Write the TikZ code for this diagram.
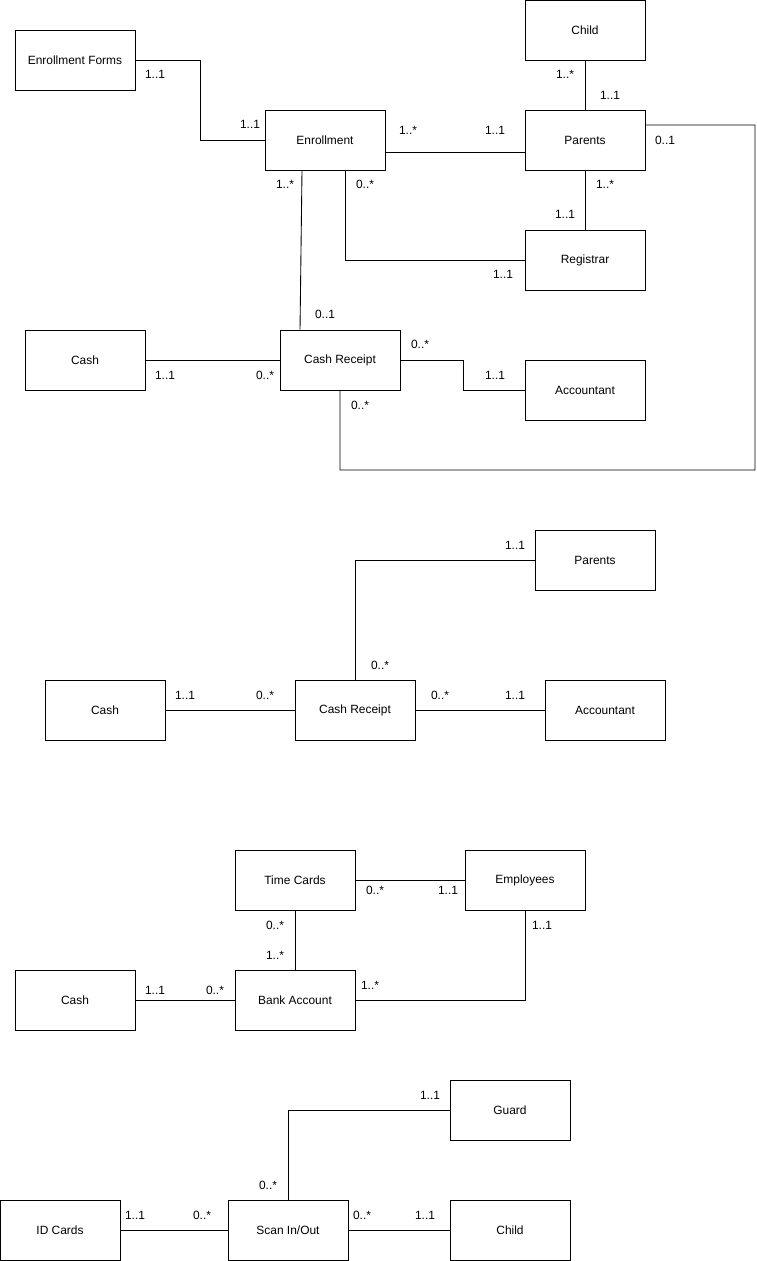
\documentclass[tikz,border=0pt]{standalone}
\usepackage{fontspec}
\setmainfont{Liberation Sans}
\begin{document}
\begin{tikzpicture}[x=0.02cm,y=-0.02cm,
    box/.style={draw, minimum width=2.4cm, minimum height=1.2cm, inner sep=0pt, font=\fontsize{6.8}{8}\selectfont},
    lbl/.style={inner sep=0pt, font=\fontsize{6.8}{8}\selectfont},
    link/.style={draw, line width=0.5pt}]
    \useasboundingbox (0,0) rectangle (757,1261);

    % first diagram: enrollment
    \node[box] (ef) at (75,60) {Enrollment Forms};
    \node[box] (ch) at (585,30) {Child};
    \node[box] (en) at (325,140) {Enrollment};
    \node[box] (pa) at (585,140) {Parents};
    \node[box] (rg) at (585,260) {Registrar};
    \node[box] (cs) at (85,360) {Cash};
    \node[box] (cr) at (340,360) {Cash Receipt};
    \node[box] (ac) at (585,390) {Accountant};

    \draw[link] (ef.east) -- ++(65,0) |- (en.west);
    \draw[link] (ch) -- (pa);
    \draw[link] ([yshift=-0.24cm]en.east) -- ([yshift=-0.24cm]pa.west);
    \draw[link] (pa) -- (rg);
    \draw[link] ([xshift=0.4cm]en.south) |- (rg.west);
    \draw[link] ([xshift=-0.46cm]en.south) -- ([xshift=-0.8cm]cr.north);
    \draw[link] (cs) -- (cr);
    \draw[link] (cr.east) -- ++(63,0) |- (ac.west);
    \coordinate (c1) at (755,125);
    \coordinate (c2) at (755,470);
    \draw[link] ([yshift=0.3cm]pa.east) -- (c1) -- (c2) -| (cr.south);

    \node[lbl] (l1) at (155,74) {1..1};
    \node[lbl] (l2) at (250,124) {1..1};
    \node[lbl] (l3) at (565,74) {1..*};
    \node[lbl] (l4) at (610,95) {1..1};
    \node[lbl] (l5) at (408,130) {1..*};
    \node[lbl] (l6) at (495,130) {1..1};
    \node[lbl] (l7) at (605,184) {1..*};
    \node[lbl] (l8) at (565,214) {1..1};
    \node[lbl] (l9) at (365,184) {0..*};
    \node[lbl] (l10) at (503,274) {1..1};
    \node[lbl] (l11) at (285,184) {1..*};
    \node[lbl] (l12) at (325,314) {0..1};
    \node[lbl] (l13) at (165,375) {1..1};
    \node[lbl] (l14) at (265,375) {0..*};
    \node[lbl] (l15) at (420,344) {0..*};
    \node[lbl] (l16) at (495,375) {1..1};
    \node[lbl] (l17) at (665,140) {0..1};
    \node[lbl] (l18) at (360,405) {0..*};

    % second diagram: payment
    \node[box] (pb) at (595,560) {Parents};
    \node[box] (csb) at (105,710) {Cash};
    \node[box] (crb) at (355,710) {Cash Receipt};
    \node[box] (acb) at (605,710) {Accountant};

    \draw[link] (pb.west) -| (crb.north);
    \draw[link] (csb) -- (crb);
    \draw[link] (crb) -- (acb);

    \node[lbl] (m1) at (515,545) {1..1};
    \node[lbl] (m2) at (380,665) {0..*};
    \node[lbl] (m3) at (185,695) {1..1};
    \node[lbl] (m4) at (265,695) {0..*};
    \node[lbl] (m5) at (440,695) {0..*};
    \node[lbl] (m6) at (515,695) {1..1};

    % third diagram: payroll
    \node[box] (tc) at (295,880) {Time Cards};
    \node[box] (em) at (525,880) {Employees};
    \node[box] (csc) at (75,1000) {Cash};
    \node[box] (ba) at (295,1000) {Bank Account};

    \draw[link] (tc) -- (em);
    \draw[link] (tc) -- (ba);
    \draw[link] (csc) -- (ba);
    \draw[link] (ba.east) -| (em.south);

    \node[lbl] (n1) at (375,890) {0..*};
    \node[lbl] (n2) at (448,890) {1..1};
    \node[lbl] (n3) at (275,925) {0..*};
    \node[lbl] (n4) at (275,955) {1..*};
    \node[lbl] (n5) at (155,990) {1..1};
    \node[lbl] (n6) at (215,990) {0..*};
    \node[lbl] (n7) at (370,985) {1..*};
    \node[lbl] (n8) at (542,925) {1..1};

    % fourth diagram: attendance
    \node[box] (gd) at (510,1110) {Guard};
    \node[box] (id) at (60,1230) {ID Cards};
    \node[box] (sc) at (288,1230) {Scan In/Out};
    \node[box] (chd) at (510,1230) {Child};

    \draw[link] (gd.west) -| (sc.north);
    \draw[link] (id) -- (sc);
    \draw[link] (sc) -- (chd);

    \node[lbl] (p1) at (430,1095) {1..1};
    \node[lbl] (p2) at (268,1185) {0..*};
    \node[lbl] (p3) at (135,1215) {1..1};
    \node[lbl] (p4) at (202,1215) {0..*};
    \node[lbl] (p5) at (362,1215) {0..*};
    \node[lbl] (p6) at (425,1215) {1..1};
\end{tikzpicture}
\end{document}
